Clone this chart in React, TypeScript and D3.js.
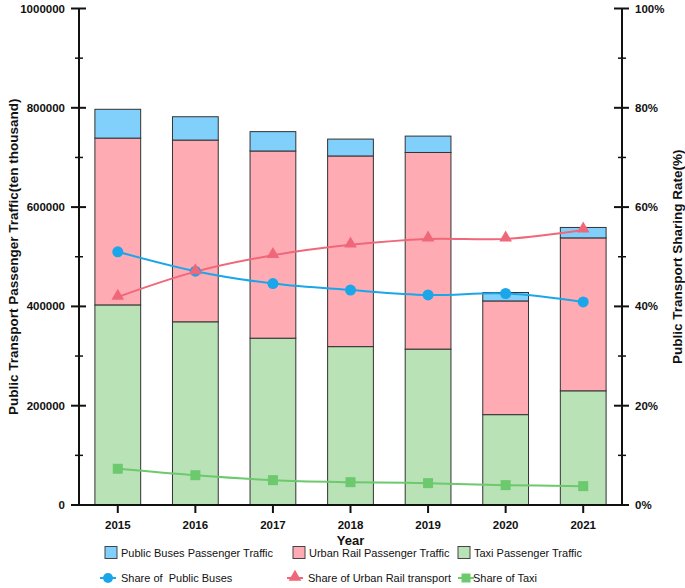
import React from 'react';
import * as d3 from 'd3';

// chart data (ten thousand passengers, shares in %)
const years = ['2015', '2016', '2017', '2018', '2019', '2020', '2021'];
const taxiTraffic = [403000, 369000, 336000, 319000, 314000, 182000, 230000];
const railTraffic = [336000, 366000, 377000, 384000, 396000, 229000, 308000];
const busTraffic = [58000, 47000, 39000, 34000, 33000, 17000, 21000];
const busShare = [51.0, 47.1, 44.6, 43.3, 42.3, 42.6, 40.9];
const railShare = [41.9, 47.0, 50.3, 52.4, 53.6, 53.6, 55.4];
const taxiShare = [7.3, 6.0, 5.0, 4.6, 4.4, 4.0, 3.8];
const leftTicks = [0, 200000, 400000, 600000, 800000, 1000000];
const rightTicks = [0, 20, 40, 60, 80, 100];

const W = 685;
const H = 588;
const margin = { left: 79, right: 63, top: 8.5, bottom: 83 };
const FONT = '"Liberation Sans", Arial, sans-serif';

const C_BUS = '#80d0fb';
const C_RAIL = '#ffabb4';
const C_TAXI = '#b9e3b6';
const L_BUS = '#1ba6e9';
const L_RAIL = '#f0677a';
const L_TAXI = '#6cc96d';

if (typeof document !== 'undefined') document.body.style.margin = '0';

export default function App() {
  const x = d3.scaleBand<string>().domain(years).range([margin.left, W - margin.right]).padding(0);
  const yL = d3.scaleLinear().domain([0, 1000000]).range([H - margin.bottom, margin.top]);
  const yR = d3.scaleLinear().domain([0, 100]).range([H - margin.bottom, margin.top]);
  const barW = x.bandwidth() * 0.59;
  const cx = (y: string) => (x(y) as number) + x.bandwidth() / 2;

  const rows = years.map((year, i) => ({ year, taxi: taxiTraffic[i], rail: railTraffic[i], bus: busTraffic[i] }));
  const stack = d3.stack<any>().keys(['taxi', 'rail', 'bus'])(rows);
  const fills = [C_TAXI, C_RAIL, C_BUS];

  const line = d3.line<number>()
    .x((_, i) => cx(years[i]))
    .y(d => yR(d))
    .curve(d3.curveCatmullRom.alpha(0.5));

  const x0 = margin.left;
  const x1 = W - margin.right;
  const y0 = H - margin.bottom;

  const minorL = d3.range(100000, 1000000, 200000);
  const minorR = d3.range(10, 100, 20);

  const tri = d3.symbol().type(d3.symbolTriangle).size(70)() as string;

  return (
    <svg width={W} height={H} style={{ display: 'block', fontFamily: FONT }}>
      {/* bars */}
      {stack.map((s, k) => (
        <g key={k}>
          {s.map((d, i) => (
            <rect key={i} x={cx(years[i]) - barW / 2} y={yL(d[1])} width={barW} height={yL(d[0]) - yL(d[1])}
              fill={fills[k]} stroke="#333" strokeWidth={1} />
          ))}
        </g>
      ))}

      {/* share lines */}
      <path d={line(busShare) as string} fill="none" stroke={L_BUS} strokeWidth={2} />
      <path d={line(railShare) as string} fill="none" stroke={L_RAIL} strokeWidth={2} />
      <path d={line(taxiShare) as string} fill="none" stroke={L_TAXI} strokeWidth={2} />
      {busShare.map((v, i) => <circle key={'b' + i} cx={cx(years[i])} cy={yR(v)} r={5.5} fill={L_BUS} />)}
      {railShare.map((v, i) => <path key={'r' + i} d={tri} transform={`translate(${cx(years[i])},${yR(v) - 1})`} fill={L_RAIL} />)}
      {taxiShare.map((v, i) => <rect key={'t' + i} x={cx(years[i]) - 5} y={yR(v) - 5} width={10} height={10} fill={L_TAXI} />)}

      {/* left axis */}
      <line x1={x0} x2={x0} y1={margin.top} y2={y0} stroke="#111" strokeWidth={2} />
      {leftTicks.map(t => (
        <g key={t}>
          <line x1={x0 - 8} x2={x0 + 7} y1={yL(t)} y2={yL(t)} stroke="#111" strokeWidth={2} />
          <text x={x0 - 14} y={yL(t)} dy="0.35em" textAnchor="end" fontSize={11.5} fontWeight="bold" fill="#111">{t}</text>
        </g>
      ))}
      {minorL.map(t => <line key={t} x1={x0 - 4} x2={x0 + 4} y1={yL(t)} y2={yL(t)} stroke="#111" strokeWidth={1.5} />)}
      <text transform={`translate(13,${(margin.top + y0) / 2}) rotate(-90)`} textAnchor="middle" dy="0.35em"
        fontSize={13.5} fontWeight="bold" fill="#111">Public Transport Passenger Traffic(ten thousand)</text>

      {/* right axis */}
      <line x1={x1} x2={x1} y1={margin.top} y2={y0} stroke="#111" strokeWidth={2} />
      {rightTicks.map(t => (
        <g key={t}>
          <line x1={x1 - 8} x2={x1 + 7} y1={yR(t)} y2={yR(t)} stroke="#111" strokeWidth={2} />
          <text x={x1 + 13} y={yR(t)} dy="0.35em" textAnchor="start" fontSize={11.5} fontWeight="bold" fill="#111">{t}%</text>
        </g>
      ))}
      {minorR.map(t => <line key={t} x1={x1 - 4} x2={x1 + 4} y1={yR(t)} y2={yR(t)} stroke="#111" strokeWidth={1.5} />)}
      <text transform={`translate(677,${(margin.top + y0) / 2}) rotate(-90)`} textAnchor="middle" dy="0.35em"
        fontSize={13.5} fontWeight="bold" fill="#111">Public Transport Sharing Rate(%)</text>

      {/* bottom axis */}
      <line x1={x0} x2={x1} y1={y0} y2={y0} stroke="#111" strokeWidth={2} />
      {years.map(yr => (
        <g key={yr}>
          <line x1={cx(yr)} x2={cx(yr)} y1={y0} y2={y0 + 8} stroke="#111" strokeWidth={2} />
          <text x={cx(yr)} y={y0 + 20} dy="0.35em" textAnchor="middle" fontSize={11.5} fontWeight="bold" fill="#111">{yr}</text>
        </g>
      ))}
      <text x={(x0 + x1) / 2} y={y0 + 35.5} dy="0.35em" textAnchor="middle" fontSize={13} fontWeight="bold" fill="#111">Year</text>

      {/* legend */}
      {[
        { x: 105, label: 'Public Buses Passenger Traffic', fill: C_BUS },
        { x: 293, label: 'Urban Rail Passenger Traffic', fill: C_RAIL },
        { x: 458, label: 'Taxi Passenger Traffic', fill: C_TAXI },
      ].map(l => (
        <g key={l.label}>
          <rect x={l.x} y={546.5} width={12} height={12} fill={l.fill} stroke="#444" strokeWidth={1} />
          <text x={l.x + 16} y={553} dy="0.35em" fontSize={11} fill="#111">{l.label}</text>
        </g>
      ))}
      {[
        { x: 108, label: 'Share of  Public Buses', color: L_BUS, kind: 'c' },
        { x: 295, label: 'Share of Urban Rail transport', color: L_RAIL, kind: 't' },
        { x: 466, label: 'Share of Taxi', color: L_TAXI, kind: 's' },
      ].map(l => (
        <g key={l.label}>
          <line x1={l.x - 8} x2={l.x + 8} y1={578} y2={578} stroke={l.color} strokeWidth={2} />
          {l.kind === 'c' && <circle cx={l.x} cy={578} r={5} fill={l.color} />}
          {l.kind === 't' && <path d={tri} transform={`translate(${l.x},577)`} fill={l.color} />}
          {l.kind === 's' && <rect x={l.x - 4.5} y={573.5} width={9} height={9} fill={l.color} />}
          <text x={l.x + (l.kind === 's' ? 7 : 13)} y={578} dy="0.35em" fontSize={11} fill="#111"
            style={{ whiteSpace: 'pre' }}>{l.label}</text>
        </g>
      ))}
    </svg>
  );
}
